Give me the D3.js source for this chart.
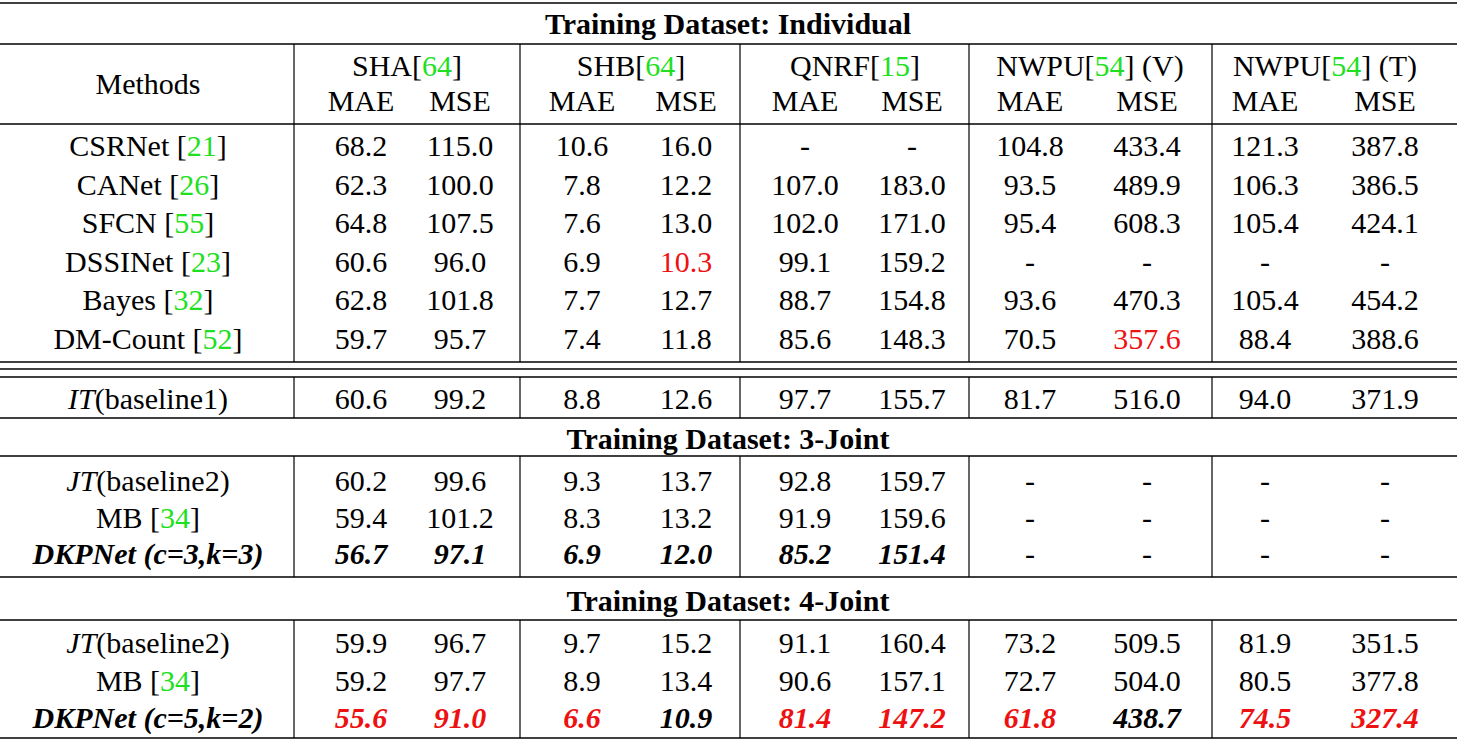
<!DOCTYPE html>
<html><head><meta charset="utf-8">
<script src="https://cdn.jsdelivr.net/npm/d3@7"></script>
<style>body{margin:0;background:#fff}</style>
</head><body><svg id="c" width="1457" height="742"></svg>
<script>
// ---- data ----
const datasets = [["SHA","64"],["SHB","64"],["QNRF","15"],["NWPU","54"," (V)"],["NWPU","54"," (T)"]];
const metrics = ["MAE","MSE"];
const sectionTitles = ["Training Dataset: Individual","Training Dataset: 3-Joint","Training Dataset: 4-Joint"];
// method: [italicPrefix, name, ref, bold]
const methodsIndividual = [["","CSRNet ","21"],["","CANet ","26"],["","SFCN ","55"],["","DSSINet ","23"],["","Bayes ","32"],["","DM-Count ","52"],["IT","(baseline1)",""]];
const valuesIndividual = [
 ["68.2","115.0","10.6","16.0","-","-","104.8","433.4","121.3","387.8"],
 ["62.3","100.0","7.8","12.2","107.0","183.0","93.5","489.9","106.3","386.5"],
 ["64.8","107.5","7.6","13.0","102.0","171.0","95.4","608.3","105.4","424.1"],
 ["60.6","96.0","6.9","10.3","99.1","159.2","-","-","-","-"],
 ["62.8","101.8","7.7","12.7","88.7","154.8","93.6","470.3","105.4","454.2"],
 ["59.7","95.7","7.4","11.8","85.6","148.3","70.5","357.6","88.4","388.6"],
 ["60.6","99.2","8.8","12.6","97.7","155.7","81.7","516.0","94.0","371.9"]];
const redIndividual = [[],[],[],[3],[],[7],[]];
const methods3 = [["JT","(baseline2)",""],["","MB ","34"],["","DKPNet (c=3,k=3)","",true]];
const values3 = [
 ["60.2","99.6","9.3","13.7","92.8","159.7","-","-","-","-"],
 ["59.4","101.2","8.3","13.2","91.9","159.6","-","-","-","-"],
 ["56.7","97.1","6.9","12.0","85.2","151.4","-","-","-","-"]];
const red3 = [[],[],[]];
const methods4 = [["JT","(baseline2)",""],["","MB ","34"],["","DKPNet (c=5,k=2)","",true]];
const values4 = [
 ["59.9","96.7","9.7","15.2","91.1","160.4","73.2","509.5","81.9","351.5"],
 ["59.2","97.7","8.9","13.4","90.6","157.1","72.7","504.0","80.5","377.8"],
 ["55.6","91.0","6.6","10.9","81.4","147.2","61.8","438.7","74.5","327.4"]];
const red4 = [[],[],[0,1,2,4,5,6,8,9]];

// ---- layout ----
const L = {
  methodX:148, groupX:[407,631,855,1090,1325],
  colX:[361,460,582,686,805,912,1030,1147,1265,1385],
  vlines:[294,520,740,969,1212],
  hlines:[3,44,124,362,369,377,418,456,577,620,738],
  vseg:[[44,362],[377,418],[456,577],[620,738]],
  titleY:[23,438,600], groupY:65, metricY:100, methodsY:83,
  rowsInd:[145,184,222,261,299,338,398], rows3:[480,517,553], rows4:[642,680,717],
  fs:30
};
const FONT='"Liberation Serif", Tinos, "Times New Roman", Times, "DejaVu Serif", serif';
const GREEN="#1ee01e", RED="#ee1111";
const svg=d3.select("#c");
const xCol=d3.scaleOrdinal().domain(d3.range(10)).range(L.colX);

svg.selectAll("line.h").data(L.hlines).join("line").attr("x1",0).attr("x2",1457)
 .attr("y1",d=>d).attr("y2",d=>d).attr("stroke","#000").attr("stroke-width",1.3);
L.vseg.forEach(s=>svg.selectAll(null).data(L.vlines).join("line").attr("x1",d=>d).attr("x2",d=>d)
 .attr("y1",s[0]).attr("y2",s[1]).attr("stroke","#000").attr("stroke-width",1.2));

function txt(x,y,opts={}){return svg.append("text").attr("x",x).attr("y",y).attr("dy","0.35em")
 .attr("font-family",FONT)
 .attr("text-anchor","middle").attr("font-size",L.fs).attr("font-weight",opts.bold?"bold":null)
 .attr("font-style",opts.italic?"italic":null).attr("fill",opts.fill||"#000");}

sectionTitles.forEach((t,i)=>txt(728,L.titleY[i],{bold:true}).text(t));
txt(L.methodX,L.methodsY).text("Methods");
datasets.forEach((d,i)=>{const t=txt(L.groupX[i],L.groupY);
 t.append("tspan").text(d[0]+"["); t.append("tspan").attr("fill",GREEN).text(d[1]);
 t.append("tspan").text("]"+(d[2]||""));});
d3.range(10).forEach(i=>txt(xCol(i),L.metricY).text(metrics[i%2]));

function block(methods,values,reds,ys){
 methods.forEach((m,r)=>{const t=txt(L.methodX,ys[r],{bold:m[3],italic:m[3]});
  if(m[0]) t.append("tspan").attr("font-style","italic").text(m[0]);
  t.append("tspan").text(m[1]+(m[2]?"[":""));
  if(m[2]){t.append("tspan").attr("fill",GREEN).text(m[2]);t.append("tspan").text("]");}
  values[r].forEach((v,c)=>{const strong=m[3]&&v!=="-";
   txt(xCol(c),ys[r],{bold:strong,italic:strong,fill:reds[r].includes(c)?RED:"#000"}).text(v);});
 });
}
block(methodsIndividual,valuesIndividual,redIndividual,L.rowsInd);
block(methods3,values3,red3,L.rows3);
block(methods4,values4,red4,L.rows4);
</script></body></html>
